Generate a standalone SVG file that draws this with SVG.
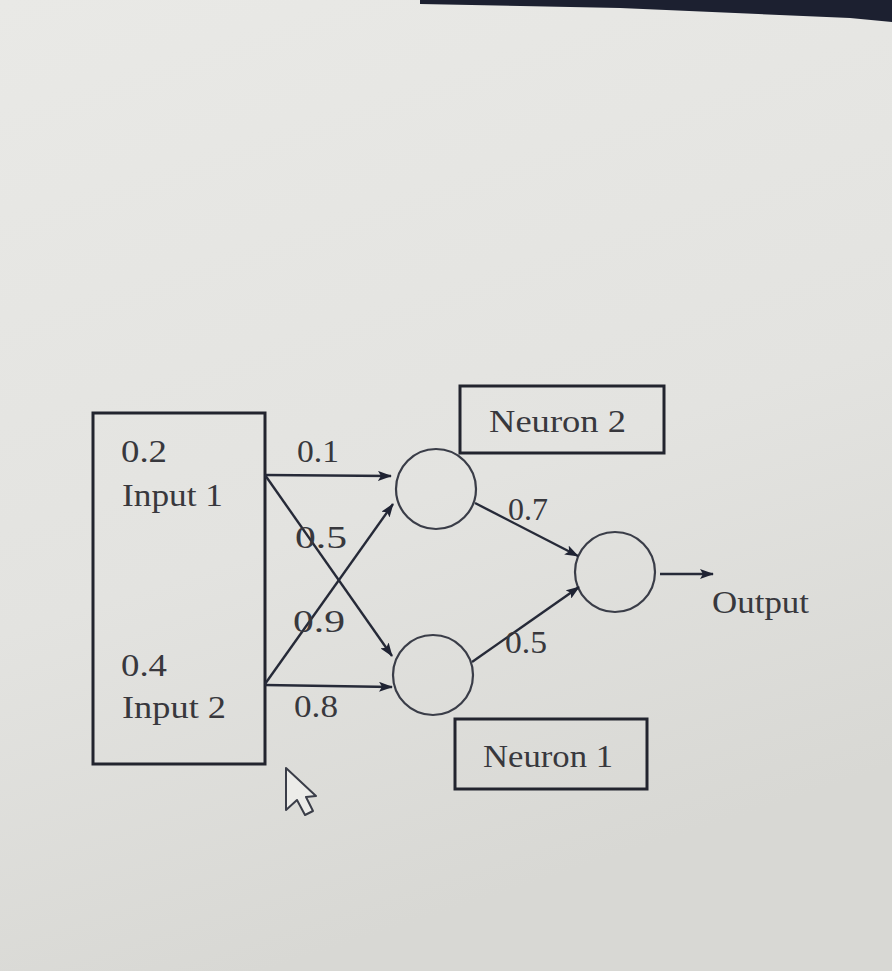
<svg xmlns="http://www.w3.org/2000/svg" width="892" height="971" viewBox="0 0 892 971">
<defs>
<linearGradient id="bg" x1="0" y1="0" x2="0.3" y2="1">
<stop offset="0" stop-color="#e9e9e6"/>
<stop offset="0.6" stop-color="#e3e3e0"/>
<stop offset="1" stop-color="#d8d8d4"/>
</linearGradient>
<marker id="ah" viewBox="0 0 14 10" refX="13" refY="5" markerWidth="14" markerHeight="10" markerUnits="userSpaceOnUse" orient="auto">
<path d="M0,0 L14,5 L0,10 L3,5 Z" fill="#1f2333"/>
</marker>
<style>
.t{font-family:"Liberation Serif","Times New Roman",serif;font-size:32px;fill:#38383d}
.box{fill:none;stroke:#22242e;stroke-width:3}
.node{fill:none;stroke:#3a3d48;stroke-width:2.2}
.c{stroke:#262a38;stroke-width:2.4;fill:none}
</style>
</defs>
<rect width="892" height="971" fill="url(#bg)"/>
<polygon points="420,0 892,0 892,22 850,18 620,8 420,4" fill="#1c2030"/>

<g id="input-box">
<rect class="box" x="93" y="413" width="172" height="351"/>
<text class="t" x="121" y="462" textLength="46" lengthAdjust="spacingAndGlyphs">0.2</text>
<text class="t" x="122" y="506" textLength="101" lengthAdjust="spacingAndGlyphs">Input 1</text>
<text class="t" x="121" y="676" textLength="46" lengthAdjust="spacingAndGlyphs">0.4</text>
<text class="t" x="122" y="718" textLength="104" lengthAdjust="spacingAndGlyphs">Input 2</text>
</g>

<g id="neuron2">
<circle class="node" cx="436" cy="489" r="40"/>
</g>
<g id="neuron1">
<circle class="node" cx="433" cy="675" r="40"/>
</g>
<g id="output-node">
<circle class="node" cx="615" cy="572" r="40"/>
</g>

<g id="neuron2-label">
<rect class="box" x="460" y="386" width="204" height="67"/>
<text class="t" x="489" y="432" textLength="137" lengthAdjust="spacingAndGlyphs">Neuron 2</text>
</g>
<g id="neuron1-label">
<rect class="box" x="455" y="719" width="192" height="70"/>
<text class="t" x="483" y="767" textLength="130" lengthAdjust="spacingAndGlyphs">Neuron 1</text>
</g>

<g id="connectors">
<line class="c" x1="265" y1="475" x2="391" y2="476" marker-end="url(#ah)"/>
<line class="c" x1="265" y1="475" x2="392" y2="656" marker-end="url(#ah)"/>
<line class="c" x1="265" y1="684" x2="393" y2="504" marker-end="url(#ah)"/>
<line class="c" x1="265" y1="685" x2="392" y2="687" marker-end="url(#ah)"/>
<line class="c" x1="475" y1="503" x2="578" y2="556" marker-end="url(#ah)"/>
<line class="c" x1="472" y1="662" x2="579" y2="587" marker-end="url(#ah)"/>
<line class="c" x1="660" y1="574" x2="713" y2="574" marker-end="url(#ah)"/>
<text class="t" x="297" y="462" textLength="42" lengthAdjust="spacingAndGlyphs">0.1</text>
<text class="t" x="295" y="548" textLength="52" lengthAdjust="spacingAndGlyphs">0.5</text>
<text class="t" x="293" y="632" textLength="52" lengthAdjust="spacingAndGlyphs">0.9</text>
<text class="t" x="294" y="717" textLength="44" lengthAdjust="spacingAndGlyphs">0.8</text>
<text class="t" x="508" y="520" textLength="40" lengthAdjust="spacingAndGlyphs">0.7</text>
<text class="t" x="505" y="653" textLength="42" lengthAdjust="spacingAndGlyphs">0.5</text>
<text class="t" x="712" y="613" textLength="97" lengthAdjust="spacingAndGlyphs">Output</text>
</g>

<g id="cursor">
<path d="M286,768 L286,810 L297,800 L305,815 L313,811 L306,797 L316,796 Z" fill="#ecece9" stroke="#3a3d48" stroke-width="2" stroke-linejoin="round"/>
</g>
</svg>
